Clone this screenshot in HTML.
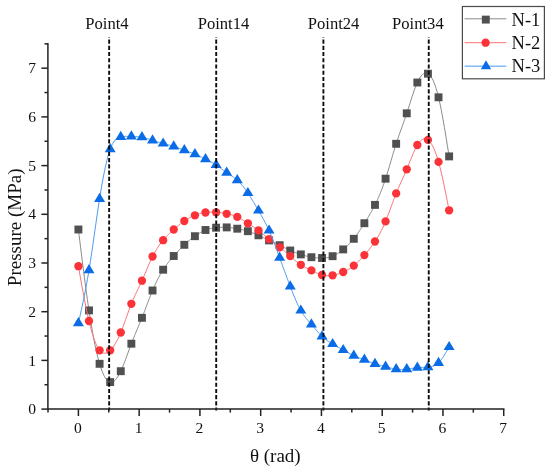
<!DOCTYPE html>
<html lang="en"><head><meta charset="utf-8"><title>Pressure vs theta</title>
<style>html,body{margin:0;padding:0;background:#fff}body{width:550px;height:472px;overflow:hidden;font-family:"Liberation Serif",serif}svg{display:block}</style>
</head><body>
<svg width="550" height="472" viewBox="0 0 550 472" font-family="'Liberation Serif', 'Times New Roman', serif" fill="#111">
<rect width="550" height="472" fill="#fff"/>
<path d="M78.40 229.50 L79.15 235.60 L79.90 241.70 L80.65 247.76 L81.40 253.80 L82.15 259.79 L82.90 265.72 L83.65 271.59 L84.40 277.37 L85.15 283.07 L85.90 288.66 L86.65 294.14 L87.40 299.50 L88.15 304.72 L88.90 309.79 L89.65 314.70 L90.40 319.46 L91.15 324.04 L91.90 328.47 L92.65 332.72 L93.40 336.81 L94.15 340.72 L94.90 344.47 L95.65 348.03 L96.40 351.42 L97.15 354.63 L97.90 357.66 L98.65 360.51 L99.40 363.18 L100.15 365.65 L100.90 367.94 L101.65 370.05 L102.40 371.98 L103.15 373.74 L103.90 375.32 L104.65 376.73 L105.40 377.97 L106.15 379.04 L106.90 379.96 L107.65 380.71 L108.40 381.30 L109.15 381.74 L109.90 382.03 L110.65 382.17 L111.40 382.16 L112.15 382.02 L112.90 381.73 L113.65 381.30 L114.40 380.75 L115.15 380.06 L115.90 379.25 L116.65 378.32 L117.40 377.27 L118.15 376.11 L118.90 374.84 L119.65 373.45 L120.40 371.97 L121.15 370.38 L121.90 368.70 L122.65 366.93 L123.40 365.09 L124.15 363.19 L124.90 361.24 L125.65 359.24 L126.40 357.21 L127.15 355.16 L127.90 353.09 L128.65 351.02 L129.40 348.97 L130.15 346.93 L130.90 344.91 L131.65 342.94 L132.40 341.01 L133.15 339.12 L133.90 337.26 L134.65 335.43 L135.40 333.61 L136.15 331.81 L136.90 330.02 L137.65 328.24 L138.40 326.45 L139.15 324.66 L139.90 322.85 L140.65 321.03 L141.40 319.18 L142.15 317.30 L142.90 315.39 L143.65 313.46 L144.40 311.50 L145.15 309.53 L145.90 307.55 L146.65 305.56 L147.40 303.58 L148.15 301.61 L148.90 299.65 L149.65 297.70 L150.40 295.79 L151.15 293.90 L151.90 292.05 L152.65 290.25 L153.40 288.49 L154.15 286.77 L154.90 285.11 L155.65 283.49 L156.40 281.91 L157.15 280.38 L157.90 278.89 L158.65 277.45 L159.40 276.05 L160.15 274.69 L160.90 273.37 L161.65 272.10 L162.40 270.87 L163.15 269.68 L163.90 268.53 L164.65 267.41 L165.40 266.34 L166.15 265.29 L166.90 264.28 L167.65 263.29 L168.40 262.33 L169.15 261.39 L169.90 260.47 L170.65 259.57 L171.40 258.68 L172.15 257.81 L172.90 256.95 L173.65 256.09 L174.40 255.24 L175.15 254.39 L175.90 253.55 L176.65 252.72 L177.40 251.89 L178.15 251.08 L178.90 250.27 L179.65 249.47 L180.40 248.69 L181.15 247.91 L181.90 247.15 L182.65 246.41 L183.40 245.68 L184.15 244.96 L184.90 244.26 L185.65 243.58 L186.40 242.91 L187.15 242.25 L187.90 241.61 L188.65 240.99 L189.40 240.38 L190.15 239.77 L190.90 239.18 L191.65 238.61 L192.40 238.04 L193.15 237.48 L193.90 236.93 L194.65 236.39 L195.40 235.85 L196.15 235.33 L196.90 234.81 L197.65 234.31 L198.40 233.81 L199.15 233.33 L199.90 232.87 L200.65 232.42 L201.40 231.99 L202.15 231.58 L202.90 231.19 L203.65 230.82 L204.40 230.47 L205.15 230.14 L205.90 229.85 L206.65 229.57 L207.40 229.32 L208.15 229.09 L208.90 228.89 L209.65 228.70 L210.40 228.53 L211.15 228.38 L211.90 228.24 L212.65 228.12 L213.40 228.01 L214.15 227.91 L214.90 227.82 L215.65 227.74 L216.40 227.67 L217.15 227.60 L217.90 227.54 L218.65 227.49 L219.40 227.44 L220.15 227.40 L220.90 227.37 L221.65 227.35 L222.40 227.33 L223.15 227.32 L223.90 227.32 L224.65 227.33 L225.40 227.35 L226.15 227.38 L226.90 227.41 L227.65 227.46 L228.40 227.51 L229.15 227.57 L229.90 227.64 L230.65 227.72 L231.40 227.81 L232.15 227.90 L232.90 228.00 L233.65 228.11 L234.40 228.22 L235.15 228.34 L235.90 228.46 L236.65 228.59 L237.40 228.72 L238.15 228.86 L238.90 229.00 L239.65 229.15 L240.40 229.30 L241.15 229.46 L241.90 229.63 L242.65 229.80 L243.40 229.98 L244.15 230.16 L244.90 230.35 L245.65 230.56 L246.40 230.76 L247.15 230.98 L247.90 231.21 L248.65 231.44 L249.40 231.69 L250.15 231.94 L250.90 232.21 L251.65 232.48 L252.40 232.76 L253.15 233.04 L253.90 233.34 L254.65 233.64 L255.40 233.95 L256.15 234.27 L256.90 234.60 L257.65 234.93 L258.40 235.27 L259.15 235.62 L259.90 235.97 L260.65 236.33 L261.40 236.69 L262.15 237.05 L262.90 237.42 L263.65 237.79 L264.40 238.16 L265.15 238.52 L265.90 238.89 L266.65 239.26 L267.40 239.62 L268.15 239.97 L268.90 240.33 L269.65 240.67 L270.40 241.02 L271.15 241.35 L271.90 241.69 L272.65 242.02 L273.40 242.35 L274.15 242.68 L274.90 243.01 L275.65 243.35 L276.40 243.68 L277.15 244.02 L277.90 244.37 L278.65 244.72 L279.40 245.08 L280.15 245.45 L280.90 245.82 L281.65 246.20 L282.40 246.58 L283.15 246.97 L283.90 247.36 L284.65 247.75 L285.40 248.13 L286.15 248.52 L286.90 248.90 L287.65 249.27 L288.40 249.64 L289.15 250.00 L289.90 250.35 L290.65 250.68 L291.40 251.01 L292.15 251.32 L292.90 251.63 L293.65 251.92 L294.40 252.21 L295.15 252.49 L295.90 252.76 L296.65 253.02 L297.40 253.28 L298.15 253.53 L298.90 253.78 L299.65 254.02 L300.40 254.26 L301.15 254.50 L301.90 254.74 L302.65 254.97 L303.40 255.20 L304.15 255.42 L304.90 255.64 L305.65 255.85 L306.40 256.06 L307.15 256.25 L307.90 256.44 L308.65 256.62 L309.40 256.79 L310.15 256.95 L310.90 257.10 L311.65 257.24 L312.40 257.36 L313.15 257.48 L313.90 257.58 L314.65 257.67 L315.40 257.75 L316.15 257.81 L316.90 257.87 L317.65 257.92 L318.40 257.95 L319.15 257.98 L319.90 258.00 L320.65 258.01 L321.40 258.01 L322.15 258.00 L322.90 257.98 L323.65 257.95 L324.40 257.91 L325.15 257.86 L325.90 257.79 L326.65 257.70 L327.40 257.60 L328.15 257.47 L328.90 257.32 L329.65 257.15 L330.40 256.95 L331.15 256.72 L331.90 256.47 L332.65 256.18 L333.40 255.87 L334.15 255.52 L334.90 255.14 L335.65 254.73 L336.40 254.30 L337.15 253.84 L337.90 253.36 L338.65 252.85 L339.40 252.33 L340.15 251.78 L340.90 251.22 L341.65 250.64 L342.40 250.05 L343.15 249.44 L343.90 248.82 L344.65 248.19 L345.40 247.54 L346.15 246.88 L346.90 246.19 L347.65 245.49 L348.40 244.77 L349.15 244.02 L349.90 243.25 L350.65 242.46 L351.40 241.63 L352.15 240.78 L352.90 239.89 L353.65 238.98 L354.40 238.03 L355.15 237.04 L355.90 236.03 L356.65 234.99 L357.40 233.93 L358.15 232.84 L358.90 231.73 L359.65 230.60 L360.40 229.45 L361.15 228.30 L361.90 227.13 L362.65 225.95 L363.40 224.76 L364.15 223.57 L364.90 222.38 L365.65 221.18 L366.40 219.98 L367.15 218.77 L367.90 217.55 L368.65 216.31 L369.40 215.06 L370.15 213.78 L370.90 212.48 L371.65 211.16 L372.40 209.80 L373.15 208.42 L373.90 207.00 L374.65 205.55 L375.40 204.05 L376.15 202.51 L376.90 200.93 L377.65 199.30 L378.40 197.62 L379.15 195.89 L379.90 194.11 L380.65 192.27 L381.40 190.37 L382.15 188.42 L382.90 186.40 L383.65 184.32 L384.40 182.18 L385.15 179.96 L385.90 177.68 L386.65 175.33 L387.40 172.92 L388.15 170.47 L388.90 167.98 L389.65 165.45 L390.40 162.91 L391.15 160.36 L391.90 157.81 L392.65 155.27 L393.40 152.75 L394.15 150.26 L394.90 147.81 L395.65 145.40 L396.40 143.06 L397.15 140.77 L397.90 138.54 L398.65 136.35 L399.40 134.20 L400.15 132.07 L400.90 129.97 L401.65 127.88 L402.40 125.79 L403.15 123.69 L403.90 121.59 L404.65 119.46 L405.40 117.30 L406.15 115.10 L406.90 112.85 L407.65 110.56 L408.40 108.23 L409.15 105.87 L409.90 103.51 L410.65 101.15 L411.40 98.81 L412.15 96.50 L412.90 94.23 L413.65 92.03 L414.40 89.90 L415.15 87.85 L415.90 85.91 L416.65 84.08 L417.40 82.38 L418.15 80.82 L418.90 79.40 L419.65 78.12 L420.40 76.98 L421.15 75.99 L421.90 75.15 L422.65 74.45 L423.40 73.90 L424.15 73.49 L424.90 73.23 L425.65 73.12 L426.40 73.16 L427.15 73.34 L427.90 73.68 L428.65 74.17 L429.40 74.82 L430.15 75.62 L430.90 76.60 L431.65 77.75 L432.40 79.07 L433.15 80.58 L433.90 82.28 L434.65 84.18 L435.40 86.27 L436.15 88.58 L436.90 91.09 L437.65 93.82 L438.40 96.77 L439.15 99.95 L439.90 103.35 L440.65 106.94 L441.40 110.72 L442.15 114.67 L442.90 118.76 L443.65 122.99 L444.40 127.34 L445.15 131.79 L445.90 136.33 L446.65 140.94 L447.40 145.60 L448.15 150.30 L448.90 155.01 L449.12 156.40" fill="none" stroke="#8a8a8a" stroke-width="1"/>
<g><rect x="74.45" y="225.55" width="7.9" height="7.9" fill="#505050"/><rect x="85.04" y="306.45" width="7.9" height="7.9" fill="#505050"/><rect x="95.63" y="359.85" width="7.9" height="7.9" fill="#505050"/><rect x="106.23" y="378.15" width="7.9" height="7.9" fill="#505050"/><rect x="116.82" y="367.25" width="7.9" height="7.9" fill="#505050"/><rect x="127.41" y="339.75" width="7.9" height="7.9" fill="#505050"/><rect x="138.00" y="313.85" width="7.9" height="7.9" fill="#505050"/><rect x="148.59" y="286.55" width="7.9" height="7.9" fill="#505050"/><rect x="159.19" y="265.75" width="7.9" height="7.9" fill="#505050"/><rect x="169.78" y="252.05" width="7.9" height="7.9" fill="#505050"/><rect x="180.37" y="240.85" width="7.9" height="7.9" fill="#505050"/><rect x="190.96" y="232.25" width="7.9" height="7.9" fill="#505050"/><rect x="201.55" y="226.05" width="7.9" height="7.9" fill="#505050"/><rect x="212.15" y="223.75" width="7.9" height="7.9" fill="#505050"/><rect x="222.74" y="223.45" width="7.9" height="7.9" fill="#505050"/><rect x="233.33" y="224.75" width="7.9" height="7.9" fill="#505050"/><rect x="243.92" y="227.25" width="7.9" height="7.9" fill="#505050"/><rect x="254.51" y="231.35" width="7.9" height="7.9" fill="#505050"/><rect x="265.11" y="236.45" width="7.9" height="7.9" fill="#505050"/><rect x="275.70" y="241.25" width="7.9" height="7.9" fill="#505050"/><rect x="286.29" y="246.55" width="7.9" height="7.9" fill="#505050"/><rect x="296.88" y="250.45" width="7.9" height="7.9" fill="#505050"/><rect x="307.47" y="253.25" width="7.9" height="7.9" fill="#505050"/><rect x="318.07" y="254.05" width="7.9" height="7.9" fill="#505050"/><rect x="328.66" y="252.25" width="7.9" height="7.9" fill="#505050"/><rect x="339.25" y="245.45" width="7.9" height="7.9" fill="#505050"/><rect x="349.84" y="234.85" width="7.9" height="7.9" fill="#505050"/><rect x="360.43" y="219.25" width="7.9" height="7.9" fill="#505050"/><rect x="371.03" y="200.95" width="7.9" height="7.9" fill="#505050"/><rect x="381.62" y="174.75" width="7.9" height="7.9" fill="#505050"/><rect x="392.21" y="139.85" width="7.9" height="7.9" fill="#505050"/><rect x="402.80" y="109.35" width="7.9" height="7.9" fill="#505050"/><rect x="413.39" y="78.55" width="7.9" height="7.9" fill="#505050"/><rect x="423.99" y="69.75" width="7.9" height="7.9" fill="#505050"/><rect x="434.58" y="93.35" width="7.9" height="7.9" fill="#505050"/><rect x="445.17" y="152.45" width="7.9" height="7.9" fill="#505050"/></g>
<path d="M78.40 266.20 L79.15 270.43 L79.90 274.66 L80.65 278.86 L81.40 283.03 L82.15 287.15 L82.90 291.22 L83.65 295.23 L84.40 299.17 L85.15 303.02 L85.90 306.77 L86.65 310.42 L87.40 313.95 L88.15 317.35 L88.90 320.61 L89.65 323.72 L90.40 326.69 L91.15 329.50 L91.90 332.15 L92.65 334.66 L93.40 337.00 L94.15 339.19 L94.90 341.23 L95.65 343.10 L96.40 344.82 L97.15 346.37 L97.90 347.76 L98.65 349.00 L99.40 350.06 L100.15 350.97 L100.90 351.71 L101.65 352.30 L102.40 352.75 L103.15 353.05 L103.90 353.22 L104.65 353.26 L105.40 353.19 L106.15 353.00 L106.90 352.70 L107.65 352.30 L108.40 351.81 L109.15 351.22 L109.90 350.56 L110.65 349.83 L111.40 349.02 L112.15 348.13 L112.90 347.18 L113.65 346.15 L114.40 345.04 L115.15 343.86 L115.90 342.60 L116.65 341.26 L117.40 339.84 L118.15 338.35 L118.90 336.77 L119.65 335.12 L120.40 333.38 L121.15 331.56 L121.90 329.67 L122.65 327.71 L123.40 325.69 L124.15 323.64 L124.90 321.55 L125.65 319.43 L126.40 317.31 L127.15 315.19 L127.90 313.08 L128.65 310.99 L129.40 308.93 L130.15 306.92 L130.90 304.97 L131.65 303.08 L132.40 301.26 L133.15 299.50 L133.90 297.80 L134.65 296.14 L135.40 294.52 L136.15 292.93 L136.90 291.36 L137.65 289.80 L138.40 288.25 L139.15 286.69 L139.90 285.12 L140.65 283.53 L141.40 281.91 L142.15 280.26 L142.90 278.57 L143.65 276.84 L144.40 275.09 L145.15 273.32 L145.90 271.54 L146.65 269.75 L147.40 267.97 L148.15 266.21 L148.90 264.46 L149.65 262.74 L150.40 261.06 L151.15 259.41 L151.90 257.82 L152.65 256.29 L153.40 254.81 L154.15 253.40 L154.90 252.05 L155.65 250.75 L156.40 249.50 L157.15 248.31 L157.90 247.16 L158.65 246.05 L159.40 244.99 L160.15 243.96 L160.90 242.97 L161.65 242.01 L162.40 241.08 L163.15 240.18 L163.90 239.31 L164.65 238.46 L165.40 237.62 L166.15 236.81 L166.90 236.02 L167.65 235.25 L168.40 234.50 L169.15 233.76 L169.90 233.03 L170.65 232.32 L171.40 231.62 L172.15 230.93 L172.90 230.24 L173.65 229.57 L174.40 228.90 L175.15 228.24 L175.90 227.59 L176.65 226.95 L177.40 226.31 L178.15 225.69 L178.90 225.07 L179.65 224.47 L180.40 223.88 L181.15 223.30 L181.90 222.73 L182.65 222.18 L183.40 221.64 L184.15 221.12 L184.90 220.61 L185.65 220.12 L186.40 219.64 L187.15 219.18 L187.90 218.73 L188.65 218.30 L189.40 217.89 L190.15 217.49 L190.90 217.11 L191.65 216.74 L192.40 216.38 L193.15 216.04 L193.90 215.72 L194.65 215.41 L195.40 215.11 L196.15 214.83 L196.90 214.56 L197.65 214.31 L198.40 214.07 L199.15 213.84 L199.90 213.63 L200.65 213.43 L201.40 213.25 L202.15 213.08 L202.90 212.93 L203.65 212.79 L204.40 212.66 L205.15 212.55 L205.90 212.45 L206.65 212.36 L207.40 212.29 L208.15 212.23 L208.90 212.19 L209.65 212.15 L210.40 212.13 L211.15 212.12 L211.90 212.12 L212.65 212.13 L213.40 212.15 L214.15 212.18 L214.90 212.22 L215.65 212.27 L216.40 212.32 L217.15 212.39 L217.90 212.46 L218.65 212.54 L219.40 212.63 L220.15 212.73 L220.90 212.83 L221.65 212.94 L222.40 213.05 L223.15 213.17 L223.90 213.30 L224.65 213.43 L225.40 213.56 L226.15 213.70 L226.90 213.84 L227.65 213.99 L228.40 214.14 L229.15 214.30 L229.90 214.46 L230.65 214.64 L231.40 214.83 L232.15 215.03 L232.90 215.25 L233.65 215.49 L234.40 215.74 L235.15 216.01 L235.90 216.30 L236.65 216.62 L237.40 216.96 L238.15 217.32 L238.90 217.71 L239.65 218.11 L240.40 218.54 L241.15 218.98 L241.90 219.44 L242.65 219.91 L243.40 220.38 L244.15 220.87 L244.90 221.36 L245.65 221.85 L246.40 222.34 L247.15 222.83 L247.90 223.32 L248.65 223.80 L249.40 224.27 L250.15 224.75 L250.90 225.22 L251.65 225.69 L252.40 226.17 L253.15 226.65 L253.90 227.13 L254.65 227.62 L255.40 228.12 L256.15 228.64 L256.90 229.16 L257.65 229.70 L258.40 230.25 L259.15 230.82 L259.90 231.41 L260.65 232.01 L261.40 232.62 L262.15 233.25 L262.90 233.88 L263.65 234.52 L264.40 235.16 L265.15 235.80 L265.90 236.44 L266.65 237.08 L267.40 237.72 L268.15 238.35 L268.90 238.97 L269.65 239.58 L270.40 240.19 L271.15 240.78 L271.90 241.37 L272.65 241.95 L273.40 242.53 L274.15 243.10 L274.90 243.67 L275.65 244.24 L276.40 244.81 L277.15 245.38 L277.90 245.95 L278.65 246.53 L279.40 247.11 L280.15 247.69 L280.90 248.28 L281.65 248.88 L282.40 249.48 L283.15 250.09 L283.90 250.71 L284.65 251.33 L285.40 251.95 L286.15 252.58 L286.90 253.22 L287.65 253.86 L288.40 254.50 L289.15 255.15 L289.90 255.80 L290.65 256.46 L291.40 257.12 L292.15 257.78 L292.90 258.44 L293.65 259.10 L294.40 259.75 L295.15 260.39 L295.90 261.03 L296.65 261.65 L297.40 262.26 L298.15 262.85 L298.90 263.42 L299.65 263.98 L300.40 264.51 L301.15 265.01 L301.90 265.49 L302.65 265.95 L303.40 266.39 L304.15 266.81 L304.90 267.21 L305.65 267.60 L306.40 267.98 L307.15 268.35 L307.90 268.71 L308.65 269.07 L309.40 269.43 L310.15 269.79 L310.90 270.15 L311.65 270.51 L312.40 270.88 L313.15 271.25 L313.90 271.63 L314.65 272.00 L315.40 272.37 L316.15 272.72 L316.90 273.07 L317.65 273.41 L318.40 273.74 L319.15 274.04 L319.90 274.33 L320.65 274.59 L321.40 274.83 L322.15 275.04 L322.90 275.22 L323.65 275.37 L324.40 275.49 L325.15 275.59 L325.90 275.66 L326.65 275.71 L327.40 275.73 L328.15 275.73 L328.90 275.70 L329.65 275.66 L330.40 275.60 L331.15 275.51 L331.90 275.41 L332.65 275.29 L333.40 275.16 L334.15 275.01 L334.90 274.84 L335.65 274.66 L336.40 274.46 L337.15 274.24 L337.90 274.02 L338.65 273.77 L339.40 273.52 L340.15 273.24 L340.90 272.96 L341.65 272.66 L342.40 272.35 L343.15 272.02 L343.90 271.68 L344.65 271.33 L345.40 270.96 L346.15 270.58 L346.90 270.18 L347.65 269.77 L348.40 269.33 L349.15 268.88 L349.90 268.41 L350.65 267.91 L351.40 267.40 L352.15 266.86 L352.90 266.30 L353.65 265.71 L354.40 265.10 L355.15 264.47 L355.90 263.81 L356.65 263.13 L357.40 262.43 L358.15 261.71 L358.90 260.97 L359.65 260.21 L360.40 259.44 L361.15 258.65 L361.90 257.85 L362.65 257.03 L363.40 256.20 L364.15 255.36 L364.90 254.51 L365.65 253.65 L366.40 252.78 L367.15 251.90 L367.90 251.00 L368.65 250.08 L369.40 249.15 L370.15 248.19 L370.90 247.22 L371.65 246.22 L372.40 245.20 L373.15 244.16 L373.90 243.09 L374.65 241.99 L375.40 240.86 L376.15 239.70 L376.90 238.51 L377.65 237.27 L378.40 236.01 L379.15 234.69 L379.90 233.34 L380.65 231.94 L381.40 230.49 L382.15 228.98 L382.90 227.42 L383.65 225.81 L384.40 224.13 L385.15 222.40 L385.90 220.59 L386.65 218.73 L387.40 216.81 L388.15 214.85 L388.90 212.85 L389.65 210.82 L390.40 208.78 L391.15 206.72 L391.90 204.67 L392.65 202.62 L393.40 200.59 L394.15 198.58 L394.90 196.61 L395.65 194.68 L396.40 192.81 L397.15 190.98 L397.90 189.21 L398.65 187.47 L399.40 185.77 L400.15 184.09 L400.90 182.44 L401.65 180.79 L402.40 179.15 L403.15 177.50 L403.90 175.84 L404.65 174.16 L405.40 172.46 L406.15 170.72 L406.90 168.95 L407.65 167.13 L408.40 165.27 L409.15 163.40 L409.90 161.52 L410.65 159.64 L411.40 157.78 L412.15 155.95 L412.90 154.16 L413.65 152.41 L414.40 150.74 L415.15 149.14 L415.90 147.62 L416.65 146.21 L417.40 144.91 L418.15 143.73 L418.90 142.67 L419.65 141.74 L420.40 140.93 L421.15 140.25 L421.90 139.70 L422.65 139.27 L423.40 138.97 L424.15 138.80 L424.90 138.75 L425.65 138.84 L426.40 139.05 L427.15 139.40 L427.90 139.87 L428.65 140.48 L429.40 141.22 L430.15 142.10 L430.90 143.12 L431.65 144.28 L432.40 145.58 L433.15 147.03 L433.90 148.62 L434.65 150.37 L435.40 152.27 L436.15 154.33 L436.90 156.54 L437.65 158.91 L438.40 161.45 L439.15 164.15 L439.90 167.01 L440.65 170.01 L441.40 173.14 L442.15 176.40 L442.90 179.76 L443.65 183.22 L444.40 186.77 L445.15 190.39 L445.90 194.07 L446.65 197.80 L447.40 201.57 L448.15 205.37 L448.90 209.18 L449.12 210.30" fill="none" stroke="#fc7277" stroke-width="1"/>
<g><circle cx="78.40" cy="266.20" r="4.15" fill="#fb3338"/><circle cx="88.99" cy="321.00" r="4.15" fill="#fb3338"/><circle cx="99.58" cy="350.30" r="4.15" fill="#fb3338"/><circle cx="110.18" cy="350.30" r="4.15" fill="#fb3338"/><circle cx="120.77" cy="332.50" r="4.15" fill="#fb3338"/><circle cx="131.36" cy="303.80" r="4.15" fill="#fb3338"/><circle cx="141.95" cy="280.70" r="4.15" fill="#fb3338"/><circle cx="152.54" cy="256.50" r="4.15" fill="#fb3338"/><circle cx="163.14" cy="240.20" r="4.15" fill="#fb3338"/><circle cx="173.73" cy="229.50" r="4.15" fill="#fb3338"/><circle cx="184.32" cy="221.00" r="4.15" fill="#fb3338"/><circle cx="194.91" cy="215.30" r="4.15" fill="#fb3338"/><circle cx="205.50" cy="212.50" r="4.15" fill="#fb3338"/><circle cx="216.10" cy="212.30" r="4.15" fill="#fb3338"/><circle cx="226.69" cy="213.80" r="4.15" fill="#fb3338"/><circle cx="237.28" cy="216.90" r="4.15" fill="#fb3338"/><circle cx="247.87" cy="223.30" r="4.15" fill="#fb3338"/><circle cx="258.46" cy="230.30" r="4.15" fill="#fb3338"/><circle cx="269.06" cy="239.10" r="4.15" fill="#fb3338"/><circle cx="279.65" cy="247.30" r="4.15" fill="#fb3338"/><circle cx="290.24" cy="256.10" r="4.15" fill="#fb3338"/><circle cx="300.83" cy="264.80" r="4.15" fill="#fb3338"/><circle cx="311.42" cy="270.40" r="4.15" fill="#fb3338"/><circle cx="322.02" cy="275.00" r="4.15" fill="#fb3338"/><circle cx="332.61" cy="275.30" r="4.15" fill="#fb3338"/><circle cx="343.20" cy="272.00" r="4.15" fill="#fb3338"/><circle cx="353.79" cy="265.60" r="4.15" fill="#fb3338"/><circle cx="364.38" cy="255.10" r="4.15" fill="#fb3338"/><circle cx="374.98" cy="241.50" r="4.15" fill="#fb3338"/><circle cx="385.57" cy="221.40" r="4.15" fill="#fb3338"/><circle cx="396.16" cy="193.40" r="4.15" fill="#fb3338"/><circle cx="406.75" cy="169.30" r="4.15" fill="#fb3338"/><circle cx="417.34" cy="145.00" r="4.15" fill="#fb3338"/><circle cx="427.94" cy="139.90" r="4.15" fill="#fb3338"/><circle cx="438.53" cy="161.90" r="4.15" fill="#fb3338"/><circle cx="449.12" cy="210.30" r="4.15" fill="#fb3338"/></g>
<path d="M78.40 323.13 L79.15 319.80 L79.90 316.46 L80.65 313.09 L81.40 309.68 L82.15 306.22 L82.90 302.70 L83.65 299.11 L84.40 295.42 L85.15 291.64 L85.90 287.75 L86.65 283.73 L87.40 279.57 L88.15 275.26 L88.90 270.79 L89.65 266.15 L90.40 261.36 L91.15 256.43 L91.90 251.39 L92.65 246.26 L93.40 241.07 L94.15 235.84 L94.90 230.59 L95.65 225.34 L96.40 220.13 L97.15 214.96 L97.90 209.87 L98.65 204.88 L99.40 200.01 L100.15 195.28 L100.90 190.70 L101.65 186.28 L102.40 182.03 L103.15 177.95 L103.90 174.05 L104.65 170.34 L105.40 166.81 L106.15 163.48 L106.90 160.36 L107.65 157.44 L108.40 154.74 L109.15 152.26 L109.90 150.00 L110.65 147.98 L111.40 146.19 L112.15 144.60 L112.90 143.22 L113.65 142.02 L114.40 140.98 L115.15 140.10 L115.90 139.36 L116.65 138.74 L117.40 138.24 L118.15 137.83 L118.90 137.50 L119.65 137.23 L120.40 137.02 L121.15 136.85 L121.90 136.71 L122.65 136.59 L123.40 136.50 L124.15 136.43 L124.90 136.38 L125.65 136.35 L126.40 136.33 L127.15 136.33 L127.90 136.33 L128.65 136.35 L129.40 136.37 L130.15 136.39 L130.90 136.42 L131.65 136.44 L132.40 136.47 L133.15 136.49 L133.90 136.51 L134.65 136.54 L135.40 136.57 L136.15 136.60 L136.90 136.65 L137.65 136.70 L138.40 136.76 L139.15 136.83 L139.90 136.92 L140.65 137.02 L141.40 137.14 L142.15 137.27 L142.90 137.42 L143.65 137.59 L144.40 137.78 L145.15 137.97 L145.90 138.18 L146.65 138.41 L147.40 138.64 L148.15 138.87 L148.90 139.12 L149.65 139.36 L150.40 139.61 L151.15 139.87 L151.90 140.12 L152.65 140.37 L153.40 140.62 L154.15 140.86 L154.90 141.10 L155.65 141.34 L156.40 141.57 L157.15 141.81 L157.90 142.03 L158.65 142.26 L159.40 142.48 L160.15 142.70 L160.90 142.91 L161.65 143.13 L162.40 143.33 L163.15 143.54 L163.90 143.74 L164.65 143.94 L165.40 144.13 L166.15 144.33 L166.90 144.52 L167.65 144.72 L168.40 144.91 L169.15 145.11 L169.90 145.32 L170.65 145.52 L171.40 145.73 L172.15 145.95 L172.90 146.18 L173.65 146.41 L174.40 146.65 L175.15 146.90 L175.90 147.15 L176.65 147.41 L177.40 147.68 L178.15 147.95 L178.90 148.23 L179.65 148.50 L180.40 148.78 L181.15 149.06 L181.90 149.34 L182.65 149.62 L183.40 149.90 L184.15 150.17 L184.90 150.44 L185.65 150.71 L186.40 150.98 L187.15 151.24 L187.90 151.50 L188.65 151.77 L189.40 152.04 L190.15 152.30 L190.90 152.58 L191.65 152.85 L192.40 153.14 L193.15 153.43 L193.90 153.72 L194.65 154.03 L195.40 154.34 L196.15 154.66 L196.90 154.99 L197.65 155.33 L198.40 155.67 L199.15 156.02 L199.90 156.38 L200.65 156.74 L201.40 157.10 L202.15 157.47 L202.90 157.84 L203.65 158.21 L204.40 158.58 L205.15 158.96 L205.90 159.33 L206.65 159.70 L207.40 160.08 L208.15 160.45 L208.90 160.83 L209.65 161.22 L210.40 161.61 L211.15 162.01 L211.90 162.41 L212.65 162.83 L213.40 163.26 L214.15 163.71 L214.90 164.17 L215.65 164.64 L216.40 165.13 L217.15 165.64 L217.90 166.17 L218.65 166.70 L219.40 167.25 L220.15 167.81 L220.90 168.37 L221.65 168.93 L222.40 169.50 L223.15 170.06 L223.90 170.62 L224.65 171.17 L225.40 171.72 L226.15 172.26 L226.90 172.78 L227.65 173.29 L228.40 173.79 L229.15 174.29 L229.90 174.78 L230.65 175.27 L231.40 175.77 L232.15 176.28 L232.90 176.79 L233.65 177.33 L234.40 177.88 L235.15 178.45 L235.90 179.05 L236.65 179.68 L237.40 180.34 L238.15 181.04 L238.90 181.77 L239.65 182.54 L240.40 183.34 L241.15 184.18 L241.90 185.04 L242.65 185.94 L243.40 186.87 L244.15 187.83 L244.90 188.82 L245.65 189.84 L246.40 190.89 L247.15 191.97 L247.90 193.08 L248.65 194.21 L249.40 195.36 L250.15 196.54 L250.90 197.74 L251.65 198.96 L252.40 200.19 L253.15 201.44 L253.90 202.70 L254.65 203.97 L255.40 205.25 L256.15 206.54 L256.90 207.83 L257.65 209.13 L258.40 210.42 L259.15 211.72 L259.90 213.01 L260.65 214.32 L261.40 215.63 L262.15 216.96 L262.90 218.30 L263.65 219.67 L264.40 221.06 L265.15 222.49 L265.90 223.94 L266.65 225.44 L267.40 226.97 L268.15 228.56 L268.90 230.19 L269.65 231.87 L270.40 233.61 L271.15 235.39 L271.90 237.22 L272.65 239.09 L273.40 240.99 L274.15 242.92 L274.90 244.89 L275.65 246.88 L276.40 248.89 L277.15 250.91 L277.90 252.95 L278.65 255.00 L279.40 257.05 L280.15 259.11 L280.90 261.17 L281.65 263.22 L282.40 265.27 L283.15 267.32 L283.90 269.36 L284.65 271.40 L285.40 273.44 L286.15 275.46 L286.90 277.48 L287.65 279.49 L288.40 281.48 L289.15 283.47 L289.90 285.44 L290.65 287.40 L291.40 289.35 L292.15 291.27 L292.90 293.17 L293.65 295.03 L294.40 296.87 L295.15 298.66 L295.90 300.41 L296.65 302.12 L297.40 303.77 L298.15 305.36 L298.90 306.90 L299.65 308.36 L300.40 309.76 L301.15 311.09 L301.90 312.33 L302.65 313.52 L303.40 314.64 L304.15 315.70 L304.90 316.71 L305.65 317.69 L306.40 318.62 L307.15 319.53 L307.90 320.41 L308.65 321.28 L309.40 322.13 L310.15 322.98 L310.90 323.83 L311.65 324.69 L312.40 325.56 L313.15 326.44 L313.90 327.33 L314.65 328.22 L315.40 329.10 L316.15 329.98 L316.90 330.85 L317.65 331.71 L318.40 332.56 L319.15 333.39 L319.90 334.20 L320.65 334.98 L321.40 335.74 L322.15 336.46 L322.90 337.15 L323.65 337.81 L324.40 338.45 L325.15 339.05 L325.90 339.63 L326.65 340.19 L327.40 340.72 L328.15 341.24 L328.90 341.74 L329.65 342.23 L330.40 342.70 L331.15 343.16 L331.90 343.61 L332.65 344.06 L333.40 344.50 L334.15 344.94 L334.90 345.37 L335.65 345.80 L336.40 346.23 L337.15 346.65 L337.90 347.07 L338.65 347.49 L339.40 347.91 L340.15 348.33 L340.90 348.75 L341.65 349.17 L342.40 349.59 L343.15 350.01 L343.90 350.43 L344.65 350.85 L345.40 351.27 L346.15 351.69 L346.90 352.11 L347.65 352.52 L348.40 352.93 L349.15 353.33 L349.90 353.73 L350.65 354.12 L351.40 354.49 L352.15 354.86 L352.90 355.22 L353.65 355.57 L354.40 355.90 L355.15 356.22 L355.90 356.53 L356.65 356.84 L357.40 357.13 L358.15 357.42 L358.90 357.70 L359.65 357.98 L360.40 358.25 L361.15 358.53 L361.90 358.80 L362.65 359.08 L363.40 359.36 L364.15 359.64 L364.90 359.93 L365.65 360.23 L366.40 360.53 L367.15 360.83 L367.90 361.14 L368.65 361.44 L369.40 361.75 L370.15 362.05 L370.90 362.35 L371.65 362.64 L372.40 362.92 L373.15 363.20 L373.90 363.47 L374.65 363.73 L375.40 363.97 L376.15 364.20 L376.90 364.43 L377.65 364.64 L378.40 364.84 L379.15 365.04 L379.90 365.23 L380.65 365.42 L381.40 365.60 L382.15 365.79 L382.90 365.97 L383.65 366.15 L384.40 366.34 L385.15 366.53 L385.90 366.72 L386.65 366.92 L387.40 367.12 L388.15 367.32 L388.90 367.52 L389.65 367.72 L390.40 367.92 L391.15 368.11 L391.90 368.29 L392.65 368.47 L393.40 368.64 L394.15 368.79 L394.90 368.93 L395.65 369.06 L396.40 369.17 L397.15 369.26 L397.90 369.33 L398.65 369.39 L399.40 369.44 L400.15 369.46 L400.90 369.48 L401.65 369.48 L402.40 369.46 L403.15 369.43 L403.90 369.39 L404.65 369.34 L405.40 369.28 L406.15 369.20 L406.90 369.12 L407.65 369.02 L408.40 368.92 L409.15 368.81 L409.90 368.69 L410.65 368.57 L411.40 368.45 L412.15 368.33 L412.90 368.22 L413.65 368.10 L414.40 367.99 L415.15 367.89 L415.90 367.79 L416.65 367.70 L417.40 367.63 L418.15 367.57 L418.90 367.51 L419.65 367.47 L420.40 367.44 L421.15 367.41 L421.90 367.38 L422.65 367.36 L423.40 367.34 L424.15 367.32 L424.90 367.29 L425.65 367.26 L426.40 367.23 L427.15 367.19 L427.90 367.14 L428.65 367.07 L429.40 367.00 L430.15 366.90 L430.90 366.77 L431.65 366.62 L432.40 366.42 L433.15 366.19 L433.90 365.91 L434.65 365.58 L435.40 365.19 L436.15 364.74 L436.90 364.22 L437.65 363.63 L438.40 362.96 L439.15 362.20 L439.90 361.37 L440.65 360.47 L441.40 359.50 L442.15 358.47 L442.90 357.38 L443.65 356.25 L444.40 355.07 L445.15 353.85 L445.90 352.61 L446.65 351.33 L447.40 350.04 L448.15 348.73 L448.90 347.42 L449.12 347.03" fill="none" stroke="#4a99f1" stroke-width="1"/>
<g><path d="M78.40 317.00 L83.90 326.20 L72.90 326.20Z" fill="#0a6ce6"/><path d="M88.99 264.10 L94.49 273.30 L83.49 273.30Z" fill="#0a6ce6"/><path d="M99.58 192.70 L105.08 201.90 L94.08 201.90Z" fill="#0a6ce6"/><path d="M110.18 143.10 L115.68 152.30 L104.68 152.30Z" fill="#0a6ce6"/><path d="M120.77 130.80 L126.27 140.00 L115.27 140.00Z" fill="#0a6ce6"/><path d="M131.36 130.30 L136.86 139.50 L125.86 139.50Z" fill="#0a6ce6"/><path d="M141.95 131.10 L147.45 140.30 L136.45 140.30Z" fill="#0a6ce6"/><path d="M152.54 134.20 L158.04 143.40 L147.04 143.40Z" fill="#0a6ce6"/><path d="M163.14 137.40 L168.64 146.60 L157.64 146.60Z" fill="#0a6ce6"/><path d="M173.73 140.30 L179.23 149.50 L168.23 149.50Z" fill="#0a6ce6"/><path d="M184.32 144.10 L189.82 153.30 L178.82 153.30Z" fill="#0a6ce6"/><path d="M194.91 148.00 L200.41 157.20 L189.41 157.20Z" fill="#0a6ce6"/><path d="M205.50 153.00 L211.00 162.20 L200.00 162.20Z" fill="#0a6ce6"/><path d="M216.10 158.80 L221.60 168.00 L210.60 168.00Z" fill="#0a6ce6"/><path d="M226.69 166.50 L232.19 175.70 L221.19 175.70Z" fill="#0a6ce6"/><path d="M237.28 174.10 L242.78 183.30 L231.78 183.30Z" fill="#0a6ce6"/><path d="M247.87 186.90 L253.37 196.10 L242.37 196.10Z" fill="#0a6ce6"/><path d="M258.46 204.40 L263.96 213.60 L252.96 213.60Z" fill="#0a6ce6"/><path d="M269.06 224.40 L274.56 233.60 L263.56 233.60Z" fill="#0a6ce6"/><path d="M279.65 251.60 L285.15 260.80 L274.15 260.80Z" fill="#0a6ce6"/><path d="M290.24 280.20 L295.74 289.40 L284.74 289.40Z" fill="#0a6ce6"/><path d="M300.83 304.40 L306.33 313.60 L295.33 313.60Z" fill="#0a6ce6"/><path d="M311.42 318.30 L316.92 327.50 L305.92 327.50Z" fill="#0a6ce6"/><path d="M322.02 330.20 L327.52 339.40 L316.52 339.40Z" fill="#0a6ce6"/><path d="M332.61 337.90 L338.11 347.10 L327.11 347.10Z" fill="#0a6ce6"/><path d="M343.20 343.90 L348.70 353.10 L337.70 353.10Z" fill="#0a6ce6"/><path d="M353.79 349.50 L359.29 358.70 L348.29 358.70Z" fill="#0a6ce6"/><path d="M364.38 353.60 L369.88 362.80 L358.88 362.80Z" fill="#0a6ce6"/><path d="M374.98 357.70 L380.48 366.90 L369.48 366.90Z" fill="#0a6ce6"/><path d="M385.57 360.50 L391.07 369.70 L380.07 369.70Z" fill="#0a6ce6"/><path d="M396.16 363.00 L401.66 372.20 L390.66 372.20Z" fill="#0a6ce6"/><path d="M406.75 363.00 L412.25 372.20 L401.25 372.20Z" fill="#0a6ce6"/><path d="M417.34 361.50 L422.84 370.70 L411.84 370.70Z" fill="#0a6ce6"/><path d="M427.94 361.00 L433.44 370.20 L422.44 370.20Z" fill="#0a6ce6"/><path d="M438.53 356.70 L444.03 365.90 L433.03 365.90Z" fill="#0a6ce6"/><path d="M449.12 340.90 L454.62 350.10 L443.62 350.10Z" fill="#0a6ce6"/></g>
<line x1="109.15" y1="410.4" x2="109.15" y2="37" stroke="#0d0d0d" stroke-width="1.9" stroke-dasharray="4.2 2.04" stroke-dashoffset="1.4"/>
<line x1="216.2" y1="410.4" x2="216.2" y2="37" stroke="#0d0d0d" stroke-width="1.9" stroke-dasharray="4.2 2.04" stroke-dashoffset="1.4"/>
<line x1="323.4" y1="410.4" x2="323.4" y2="37" stroke="#0d0d0d" stroke-width="1.9" stroke-dasharray="4.2 2.04" stroke-dashoffset="1.4"/>
<line x1="428.75" y1="410.4" x2="428.75" y2="37" stroke="#0d0d0d" stroke-width="1.9" stroke-dasharray="4.2 2.04" stroke-dashoffset="1.4"/>
<g stroke="#222" stroke-width="1.5" fill="none">
<path d="M47.9 43 V409.1 H504.47"/>
<path d="M47.9 409.10 h-6.5"/>
<path d="M47.9 384.75 h-3.4"/>
<path d="M47.9 360.40 h-6.5"/>
<path d="M47.9 336.05 h-3.4"/>
<path d="M47.9 311.70 h-6.5"/>
<path d="M47.9 287.35 h-3.4"/>
<path d="M47.9 263.00 h-6.5"/>
<path d="M47.9 238.65 h-3.4"/>
<path d="M47.9 214.30 h-6.5"/>
<path d="M47.9 189.95 h-3.4"/>
<path d="M47.9 165.60 h-6.5"/>
<path d="M47.9 141.25 h-3.4"/>
<path d="M47.9 116.90 h-6.5"/>
<path d="M47.9 92.55 h-3.4"/>
<path d="M47.9 68.20 h-6.5"/>
<path d="M47.9 43.85 h-3.4"/>
<path d="M48.02 409.1 v3.5"/>
<path d="M78.40 409.1 v6.9"/>
<path d="M108.78 409.1 v3.5"/>
<path d="M139.16 409.1 v6.9"/>
<path d="M169.54 409.1 v3.5"/>
<path d="M199.92 409.1 v6.9"/>
<path d="M230.30 409.1 v3.5"/>
<path d="M260.68 409.1 v6.9"/>
<path d="M291.06 409.1 v3.5"/>
<path d="M321.44 409.1 v6.9"/>
<path d="M351.82 409.1 v3.5"/>
<path d="M382.20 409.1 v6.9"/>
<path d="M412.58 409.1 v3.5"/>
<path d="M442.96 409.1 v6.9"/>
<path d="M473.34 409.1 v3.5"/>
<path d="M503.72 409.1 v6.9"/>
</g>
<g font-size="15.6" text-anchor="middle">
<text x="77.90" y="432.6">0</text>
<text x="138.66" y="432.6">1</text>
<text x="199.42" y="432.6">2</text>
<text x="260.18" y="432.6">3</text>
<text x="320.94" y="432.6">4</text>
<text x="381.70" y="432.6">5</text>
<text x="442.46" y="432.6">6</text>
<text x="503.22" y="432.6">7</text>
</g>
<g font-size="15.6" text-anchor="end">
<text x="36.0" y="414.20">0</text>
<text x="36.0" y="365.50">1</text>
<text x="36.0" y="316.80">2</text>
<text x="36.0" y="268.10">3</text>
<text x="36.0" y="219.40">4</text>
<text x="36.0" y="170.70">5</text>
<text x="36.0" y="122.00">6</text>
<text x="36.0" y="73.30">7</text>
</g>
<text x="275.3" y="462" font-size="19" text-anchor="middle">θ (rad)</text>
<text transform="translate(21 227.3) rotate(-90)" font-size="19" text-anchor="middle">Pressure (MPa)</text>
<g font-size="16.6" text-anchor="middle">
<text x="107" y="29">Point4</text>
<text x="223.5" y="29">Point14</text>
<text x="333.6" y="29">Point24</text>
<text x="417.9" y="29">Point34</text>
</g>
<rect x="462.4" y="6.5" width="82.0" height="72.3" fill="#fff" stroke="#4a4a4a" stroke-width="1.2"/>
<line x1="464.6" y1="18.8" x2="506.4" y2="18.8" stroke="#8a8a8a" stroke-width="1"/>
<rect x="481.85" y="15.65" width="7.9" height="7.9" fill="#505050"/>
<text x="511.6" y="26.0" font-size="18.5">N-1</text>
<line x1="464.6" y1="42.7" x2="506.4" y2="42.7" stroke="#fc7277" stroke-width="1"/>
<circle cx="485.60" cy="42.70" r="4.15" fill="#fb3338"/>
<text x="511.6" y="49.1" font-size="18.5">N-2</text>
<line x1="464.6" y1="66.15" x2="506.4" y2="66.15" stroke="#4a99f1" stroke-width="1"/>
<path d="M486.00 60.15 L491.20 69.15 L480.80 69.15Z" fill="#0a6ce6"/>
<text x="511.6" y="72.2" font-size="18.5">N-3</text>
</svg>
</body></html>
